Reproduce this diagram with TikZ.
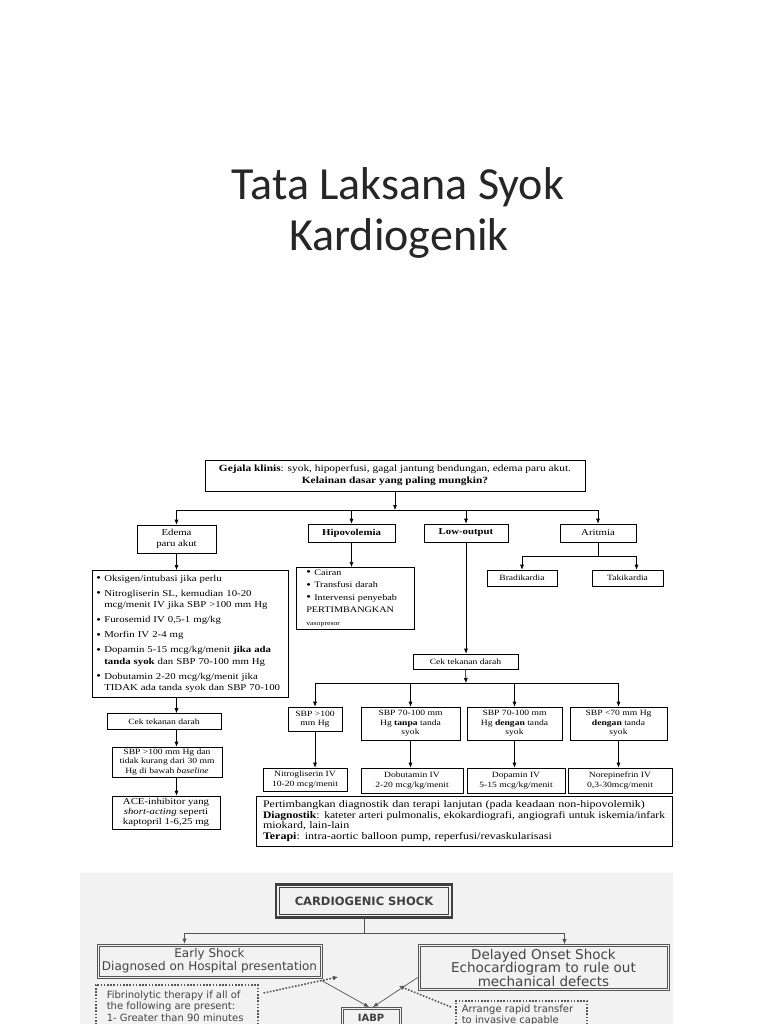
\documentclass[tikz,border=0pt]{standalone}
\usepackage{fontspec}
\usepackage{graphicx}
\setmainfont{Liberation Serif}
\newfontfamily\titlefont{Carlito}
\newfontfamily\tnr[FakeStretch=1.2]{Liberation Serif}
\newfontfamily\vfont{DejaVu Sans}
\usetikzlibrary{arrows.meta}
\definecolor{bgc}{HTML}{F2F2F2}
\definecolor{lnc}{HTML}{555555}
\definecolor{txc}{HTML}{444444}
\newcommand\bul{\makebox[8pt][l]{\raisebox{-0.5pt}{\fontsize{11}{11}\selectfont\textbullet}}}
\begin{document}
\begin{tikzpicture}[x=1pt,y=-1pt,
 box/.style={draw=black,line width=0.6pt,inner sep=1pt,align=center,font=\tnr\fontsize{8.5}{10}\selectfont},
 arr/.style={line width=0.6pt,-{Latex[length=5pt,width=4pt]}},
 ln/.style={line width=0.6pt},
 vbox/.style={draw=lnc,line width=0.7pt,inner sep=2pt,align=center,text=txc,font=\vfont\fontsize{12}{13}\selectfont},
 inner/.style={draw=lnc,line width=0.7pt},
 dotbox/.style={draw=lnc,line width=1.6pt,dash pattern=on 1.6pt off 1.6pt,text=txc,font=\vfont\fontsize{10}{9}\selectfont},
 varr/.style={draw=lnc,line width=0.7pt,-{Latex[length=5pt,width=4.5pt]}},
 dotarr/.style={draw=lnc,line width=1.6pt,dash pattern=on 1.6pt off 1.6pt,-{Latex[length=5pt,width=5pt]}}]
\useasboundingbox (0,0) rectangle (768,1024);
\clip (0,0) rectangle (768,1024);
\fill[white] (0,0) rectangle (768,1024);

% title
\node[font=\titlefont\fontsize{46}{50}\selectfont,anchor=base,text=black!85] (t1) at (398,200) {Tata Laksana Syok};
\node[font=\titlefont\fontsize{46}{50}\selectfont,anchor=base,text=black!85] (t2) at (399,251) {Kardiogenik};

% top flowchart
\node[box,minimum width=380pt,minimum height=31pt,font=\tnr\fontsize{9.5}{12}\selectfont] (top) at (395,475.5)
 {\textbf{Gejala klinis}: syok, hipoperfusi, gagal jantung bendungan, edema paru akut.\\\textbf{Kelainan dasar yang paling mungkin?}};
\node[box,minimum width=79pt,minimum height=28pt,font=\tnr\fontsize{9}{11}\selectfont] (edema) at (176.5,539) {Edema\\paru akut};
\node[box,minimum width=87pt,minimum height=18pt,font=\tnr\fontsize{9}{11}\selectfont] (hipo) at (351.5,533) {\textbf{Hipovolemia}};
\node[box,minimum width=84pt,minimum height=18pt,font=\tnr\fontsize{9}{11}\selectfont] (lowout) at (466,533) {\textbf{Low-output}};
\node[box,minimum width=76pt,minimum height=18pt,font=\tnr\fontsize{9}{11}\selectfont] (aritmia) at (598,533) {Aritmia};
\node[box,minimum width=70pt,minimum height=16pt,font=\tnr\fontsize{8}{9.5}\selectfont] (brady) at (522,578) {Bradikardia};
\node[box,minimum width=71pt,minimum height=16pt,font=\tnr\fontsize{8}{9.5}\selectfont] (taki) at (627.5,578) {Takikardia};

\node[box,anchor=north west,minimum width=196pt,minimum height=127pt,text width=188pt,inner xsep=4pt,align=left,font=\tnr\fontsize{9}{11.5}\selectfont] (elist) at (92,570)
 {\bul Oksigen/intubasi jika perlu\\[3.5pt]
  \bul Nitrogliserin SL, kemudian 10-20\\
  \hspace*{8pt}mcg/menit IV jika SBP >100 mm Hg\\[3.5pt]
  \bul Furosemid IV 0,5-1 mg/kg\\[3.5pt]
  \bul Morfin IV 2-4 mg\\[3.5pt]
  \bul Dopamin 5-15 mcg/kg/menit \textbf{jika ada}\\
  \hspace*{8pt}\textbf{tanda syok} dan SBP 70-100 mm Hg\\[3.5pt]
  \bul Dobutamin 2-20 mcg/kg/menit jika\\
  \hspace*{8pt}TIDAK ada tanda syok dan SBP 70-100};

\node[box,anchor=north west,minimum width=118pt,minimum height=62pt,text width=98pt,inner xsep=10pt,align=left,font=\tnr\fontsize{8.5}{12.5}\selectfont] (hlist) at (296,567)
 {\bul Cairan\\\bul Transfusi darah\\\bul Intervensi penyebab\\PERTIMBANGKAN\\{\fontsize{6.5}{8}\selectfont vasopresor}};

\node[box,minimum width=105pt,minimum height=15pt,font=\tnr\fontsize{8}{9.5}\selectfont] (cekr) at (465.5,661.5) {Cek tekanan darah};
\node[box,minimum width=114pt,minimum height=16pt,font=\tnr\fontsize{8}{9.5}\selectfont] (cekl) at (164,721.5) {Cek tekanan darah};
\node[box,minimum width=110pt,minimum height=30pt,font=\tnr\fontsize{8}{9.5}\selectfont] (sbpl) at (167,762) {SBP >100 mm Hg dan\\tidak kurang dari 30 mm\\Hg di bawah \textit{baseline}};
\node[box,minimum width=108pt,minimum height=33pt,font=\tnr\fontsize{9}{10}\selectfont] (ace) at (166,812.5) {ACE-inhibitor yang\\\textit{short-acting} seperti\\kaptopril 1-6,25 mg};

\node[box,minimum width=54pt,minimum height=24pt,font=\tnr\fontsize{8}{9.5}\selectfont] (sbp1) at (315,719) {SBP >100\\mm Hg};
\node[box,minimum width=99pt,minimum height=33pt,font=\tnr\fontsize{8}{9.5}\selectfont] (sbp2) at (410.5,723.5) {SBP 70-100 mm\\Hg \textbf{tanpa} tanda\\syok};
\node[box,minimum width=95pt,minimum height=33pt,font=\tnr\fontsize{8}{9.5}\selectfont] (sbp3) at (514.5,723.5) {SBP 70-100 mm\\Hg \textbf{dengan} tanda\\syok};
\node[box,minimum width=97pt,minimum height=33pt,font=\tnr\fontsize{8}{9.5}\selectfont] (sbp4) at (618.5,723.5) {SBP <70 mm Hg\\\textbf{dengan} tanda\\syok};

\node[box,minimum width=84pt,minimum height=23pt,font=\tnr\fontsize{8}{9.5}\selectfont] (d1) at (305,779.5) {Nitrogliserin IV\\10-20 mcg/menit};
\node[box,minimum width=102pt,minimum height=25pt,font=\tnr\fontsize{8}{9.5}\selectfont] (d2) at (412,780.5) {Dobutamin IV\\2-20 mcg/kg/menit};
\node[box,minimum width=98pt,minimum height=25pt,font=\tnr\fontsize{8}{9.5}\selectfont] (d3) at (516,780.5) {Dopamin IV\\5-15 mcg/kg/menit};
\node[box,minimum width=104pt,minimum height=25pt,font=\tnr\fontsize{8}{9.5}\selectfont] (d4) at (620,780.5) {Norepinefrin IV\\0,3-30mcg/menit};

\node[box,minimum width=416pt,minimum height=50pt,text width=402pt,inner xsep=7pt,align=left,font=\tnr\fontsize{10}{10.5}\selectfont] (big) at (464,821)
 {Pertimbangkan diagnostik dan terapi lanjutan (pada keadaan non-hipovolemik)\\
  \resizebox{\linewidth}{\height}{\textbf{Diagnostik}: kateter arteri pulmonalis, ekokardiografi, angiografi untuk iskemia/infark}\\
  miokard, lain-lain\\
  \textbf{Terapi}: intra-aortic balloon pump, reperfusi/revaskularisasi};

% connectors top
\coordinate (j1) at (395,510);
\draw[arr] (top.south) -- (j1);
\draw[ln] (edema.north |- j1) -- (aritmia.north |- j1);
\draw[arr] (edema.north |- j1) -- (edema.north);
\draw[arr] (hipo.north |- j1) -- (hipo.north);
\draw[arr] (lowout.north |- j1) -- (lowout.north);
\draw[arr] (aritmia.north |- j1) -- (aritmia.north);

\coordinate (j2) at (598,556);
\draw[ln] (aritmia.south) -- (j2);
\draw[ln] (brady.north |- j2) -- ([xshift=9pt]taki.north |- j2);
\draw[arr] (brady.north |- j2) -- (brady.north);
\draw[arr] ([xshift=9pt]taki.north |- j2) -- ([xshift=9pt]taki.north);

\draw[arr] (hipo.south) -- (hipo.south |- hlist.north);

\draw[arr] (edema.south) -- (edema.south |- elist.north);
\draw[arr] (edema.south |- elist.south) -- (edema.south |- cekl.north);
\draw[arr] (edema.south |- cekl.south) -- (edema.south |- sbpl.north);
\draw[arr] (edema.south |- sbpl.south) -- (edema.south |- ace.north);

\draw[arr] (lowout.south) -- (lowout.south |- cekr.north);
\coordinate (j3) at (466,683);
\draw[arr] (cekr.south) -- (j3);
\draw[ln] (sbp1.north |- j3) -- (sbp4.north |- j3);
\foreach \n in {sbp1,sbp2,sbp3,sbp4}{\draw[arr] (\n.north |- j3) -- (\n.north);}
\draw[arr] (sbp1.south) -- (sbp1.south |- d1.north);
\draw[arr] (sbp2.south) -- (sbp2.south |- d2.north);
\draw[arr] (sbp3.south) -- (sbp3.south |- d3.north);
\draw[arr] (sbp4.south) -- (sbp4.south |- d4.north);

% bottom image
\fill[bgc] (80,873) rectangle (673,1024);
\node[draw=black!75,line width=2.5pt,minimum width=176pt,minimum height=33pt,inner sep=0pt,text=black!75,font=\vfont\bfseries\fontsize{11.5}{13}\selectfont] (cs) at (364,901) {CARDIOGENIC SHOCK};
\draw[black!75,line width=0.8pt] ([shift={(4.5,4.5)}]cs.north west) rectangle ([shift={(-4.5,-4.5)}]cs.south east);

\node[vbox,minimum width=225pt,minimum height=34pt] (early) at (209.5,961) {Early Shock\\Diagnosed on Hospital presentation};
\draw[inner] ([shift={(2.5,2.5)}]early.north west) rectangle ([shift={(-2.5,-2.5)}]early.south east);
\node[vbox,minimum width=251pt,minimum height=46pt,font=\vfont\fontsize{13.5}{13.5}\selectfont] (delayed) at (543.5,967.5) {Delayed Onset Shock\\Echocardiogram to rule out\\mechanical defects};
\draw[inner] ([shift={(2.5,2.5)}]delayed.north west) rectangle ([shift={(-2.5,-2.5)}]delayed.south east);

\coordinate (j4) at (364,933);
\draw[lnc,line width=0.7pt] (cs.south) -- (j4);
\draw[lnc,line width=0.7pt] ([xshift=-25pt]early.north |- j4) -- ([xshift=21pt]delayed.north |- j4);
\draw[varr] ([xshift=-25pt]early.north |- j4) -- ([xshift=-25pt]early.north);
\draw[varr] ([xshift=21pt]delayed.north |- j4) -- ([xshift=21pt]delayed.north);

\node[vbox,anchor=north,minimum width=60pt,text depth=30pt,inner ysep=7pt,text=black!75,font=\vfont\bfseries\fontsize{10}{12}\selectfont] (iabp) at (371,1007) {IABP};
\draw[inner] ([shift={(2.5,2.5)}]iabp.north west) rectangle ([shift={(-2.5,-2.5)}]iabp.south east);

\draw[varr] ([xshift=-1pt,yshift=-2pt]early.south east) -- ([xshift=-2pt]iabp.north);
\draw[varr] ([yshift=-10pt]delayed.west) -- ([xshift=2pt]iabp.north);

\node[dotbox,anchor=north west,inner xsep=11pt,inner ysep=6pt] (ldot) at (95,984)
 {\parbox[t][80pt][t]{140pt}{\baselineskip=9pt Fibrinolytic therapy if all of\\the following are present:\\[2pt]1- Greater than 90 minutes}};
\node[dotbox,anchor=north west,inner xsep=6pt,inner ysep=4pt] (rdot) at (455,1000)
 {\parbox[t][80pt][t]{119pt}{\baselineskip=8.5pt Arrange rapid transfer\\to invasive capable}};

\coordinate (c1) at (338,977);
\coordinate (c2) at (399,986);
\draw[dotarr] ([xshift=5pt,yshift=-9pt]ldot.north east) -- (c1);
\draw[dotarr] ([xshift=-4pt,yshift=-7pt]rdot.north west) -- (c2);
\end{tikzpicture}
\end{document}
